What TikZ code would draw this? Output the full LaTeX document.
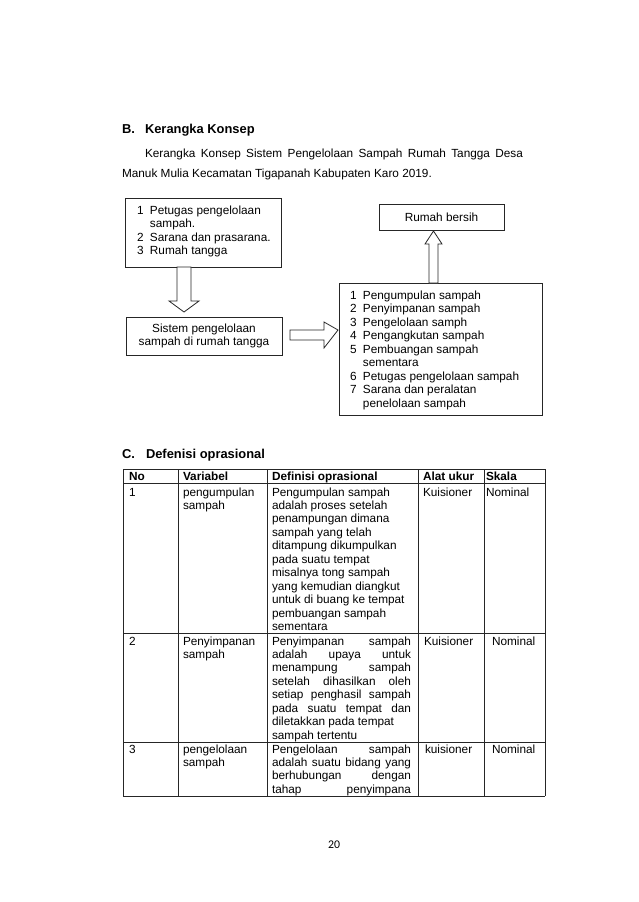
\documentclass[tikz,border=0pt]{standalone}
\usepackage{fontspec}
\setmainfont{Liberation Sans}
\newfontfamily\pagenumfont{Carlito}
\usetikzlibrary{calc}
\newcommand{\basefont}{\fontsize{11.8}{13.5}\selectfont}
\begin{document}
\begin{tikzpicture}[x=1pt,y=-1pt,
  every node/.style={font=\basefont},
  box/.style={draw=black!85, line width=0.8pt, inner sep=0pt, outer sep=0pt, font=\basefont},
  txt/.style={anchor=base west, inner sep=0pt, outer sep=0pt, font=\basefont},
  head/.style={txt, font=\fontsize{12.9}{15}\selectfont\bfseries},
  blk/.style={draw=black!85, line width=0.8pt, fill=white, line join=miter},
  tline/.style={draw=black!85, line width=0.7pt},
  cell/.style={txt, font=\fontsize{11.8}{13.45}\selectfont},
  hcell/.style={txt, font=\fontsize{11.8}{13.45}\selectfont\bfseries}]
\useasboundingbox[fill=white] (0,0) rectangle (638,902);
\newcommand{\sj}[1]{\makebox[139pt][s]{#1}}
% headings and paragraph
\node[head] (hB) at (122,133) {B.};
\node[head] (hBt) at (145,133) {Kerangka Konsep};
\node[txt] (p1) at (145,157) {\makebox[378pt][s]{Kerangka Konsep Sistem Pengelolaan Sampah Rumah Tangga Desa}};
\node[txt] (p2) at (122,177) {Manuk Mulia Kecamatan Tigapanah Kabupaten Karo 2019.};
% diagram boxes
\node[box, anchor=north west, minimum width=156, minimum height=69] (b1) at (125,198) {};
\node[txt] (b1t) at (137,214) {\begin{tabular}[t]{@{}l@{\hspace{6.4pt}}l@{}}1 & Petugas pengelolaan\\ & sampah.\\ 2 & Sarana dan prasarana.\\ 3 & Rumah tangga\end{tabular}};
\node[box, anchor=north west, minimum width=156, minimum height=38] (b2) at (126,317) {};
\node[anchor=base, inner sep=0pt] (b2t) at (204,332) {\begin{tabular}[t]{@{}c@{}}Sistem pengelolaan\\ sampah di rumah tangga\end{tabular}};
\node[box, anchor=north west, minimum width=203, minimum height=132] (b3) at (339,283) {};
\node[txt] (b3t) at (350,299) {\begin{tabular}[t]{@{}l@{\hspace{6.4pt}}l@{}}1 & Pengumpulan sampah\\ 2 & Penyimpanan sampah\\ 3 & Pengelolaan samph\\ 4 & Pengangkutan sampah\\ 5 & Pembuangan sampah\\ & sementara\\ 6 & Petugas pengelolaan sampah\\ 7 & Sarana dan peralatan\\ & penelolaan sampah\end{tabular}};
\node[box, anchor=center, minimum width=125, minimum height=26] (b4) at (441.5,217) {Rumah bersih};
% block arrows
\coordinate (dA) at ($(b1.south west)+(59,0)$);
\draw[blk] (dA) ++(-7,0) -- ++(0,34) -- ++(-8,0) -- ++(15,11) -- ++(15,-11) -- ++(-8,0) -- ++(0,-34) -- cycle;
\coordinate (rA) at ($(b3.west)+(-1,-14)$);
\draw[blk] (rA) ++(0,-5) -- ++(-14,-8) -- ++(0,8) -- ++(-34,0) -- ++(0,10) -- ++(34,0) -- ++(0,8) -- cycle;
\coordinate (uA) at ($(b3.north west)+(94.5,0)$);
\draw[blk] (uA) ++(-4.5,0) -- ++(0,-39) -- ++(-4,0) -- ++(8.5,-13) -- ++(8.5,13) -- ++(-4,0) -- ++(0,39) -- cycle;
% section C
\node[head] (hC) at (122,458) {C.};
\node[head] (hCt) at (146,458) {Defenisi oprasional};
% table lines
\foreach \yy in {469,483,633,742,796} \draw[tline] (123,\yy) -- (545,\yy);
\foreach \xx in {123,178,267,418,484,545} \draw[tline] (\xx,469) -- (\xx,796);
% header
\node[hcell] (h1) at (129,480) {No};
\node[hcell] (h2) at (183,480) {Variabel};
\node[hcell] (h3) at (272,480) {Definisi oprasional};
\node[hcell] (h4) at (423,480) {Alat ukur};
\node[hcell] (h5) at (486,480) {Skala};
% row 1
\node[cell] (r1a) at (129,496) {1};
\node[cell] (r1b) at (183,496) {\begin{tabular}[t]{@{}l@{}}pengumpulan\\ sampah\end{tabular}};
\node[cell] (r1c) at (272,496) {\begin{tabular}[t]{@{}l@{}}Pengumpulan sampah\\ adalah proses setelah\\ penampungan dimana\\ sampah yang telah\\ ditampung dikumpulkan\\ pada suatu tempat\\ misalnya tong sampah\\ yang kemudian diangkut\\ untuk di buang ke tempat\\ pembuangan sampah\\ sementara\end{tabular}};
\node[cell] (r1d) at (423,496) {Kuisioner};
\node[cell] (r1e) at (486,496) {Nominal};
% row 2
\node[cell] (r2a) at (129,645) {2};
\node[cell] (r2b) at (183,645) {\begin{tabular}[t]{@{}l@{}}Penyimpanan\\ sampah\end{tabular}};
\node[cell] (r2c) at (272,645) {\begin{tabular}[t]{@{}l@{}}\sj{Penyimpanan sampah}\\ \sj{adalah upaya untuk}\\ \sj{menampung sampah}\\ \sj{setelah dihasilkan oleh}\\ \sj{setiap penghasil sampah}\\ \sj{pada suatu tempat dan}\\ diletakkan pada tempat\\ sampah tertentu\end{tabular}};
\node[cell] (r2d) at (424,645) {Kuisioner};
\node[cell] (r2e) at (492,645) {Nominal};
% row 3
\node[cell] (r3a) at (129,753) {3};
\node[cell] (r3b) at (183,753) {\begin{tabular}[t]{@{}l@{}}pengelolaan\\ sampah\end{tabular}};
\node[cell] (r3c) at (272,753) {\begin{tabular}[t]{@{}l@{}}\sj{Pengelolaan sampah}\\ \sj{adalah suatu bidang yang}\\ \sj{berhubungan dengan}\\ \sj{tahap penyimpana}\end{tabular}};
\node[cell] (r3d) at (425,753) {kuisioner};
\node[cell] (r3e) at (492,753) {Nominal};
% page number
\node[anchor=base, inner sep=0pt, font=\pagenumfont\fontsize{11.8}{14}\selectfont] (pg) at (334,848) {20};
\end{tikzpicture}
\end{document}
